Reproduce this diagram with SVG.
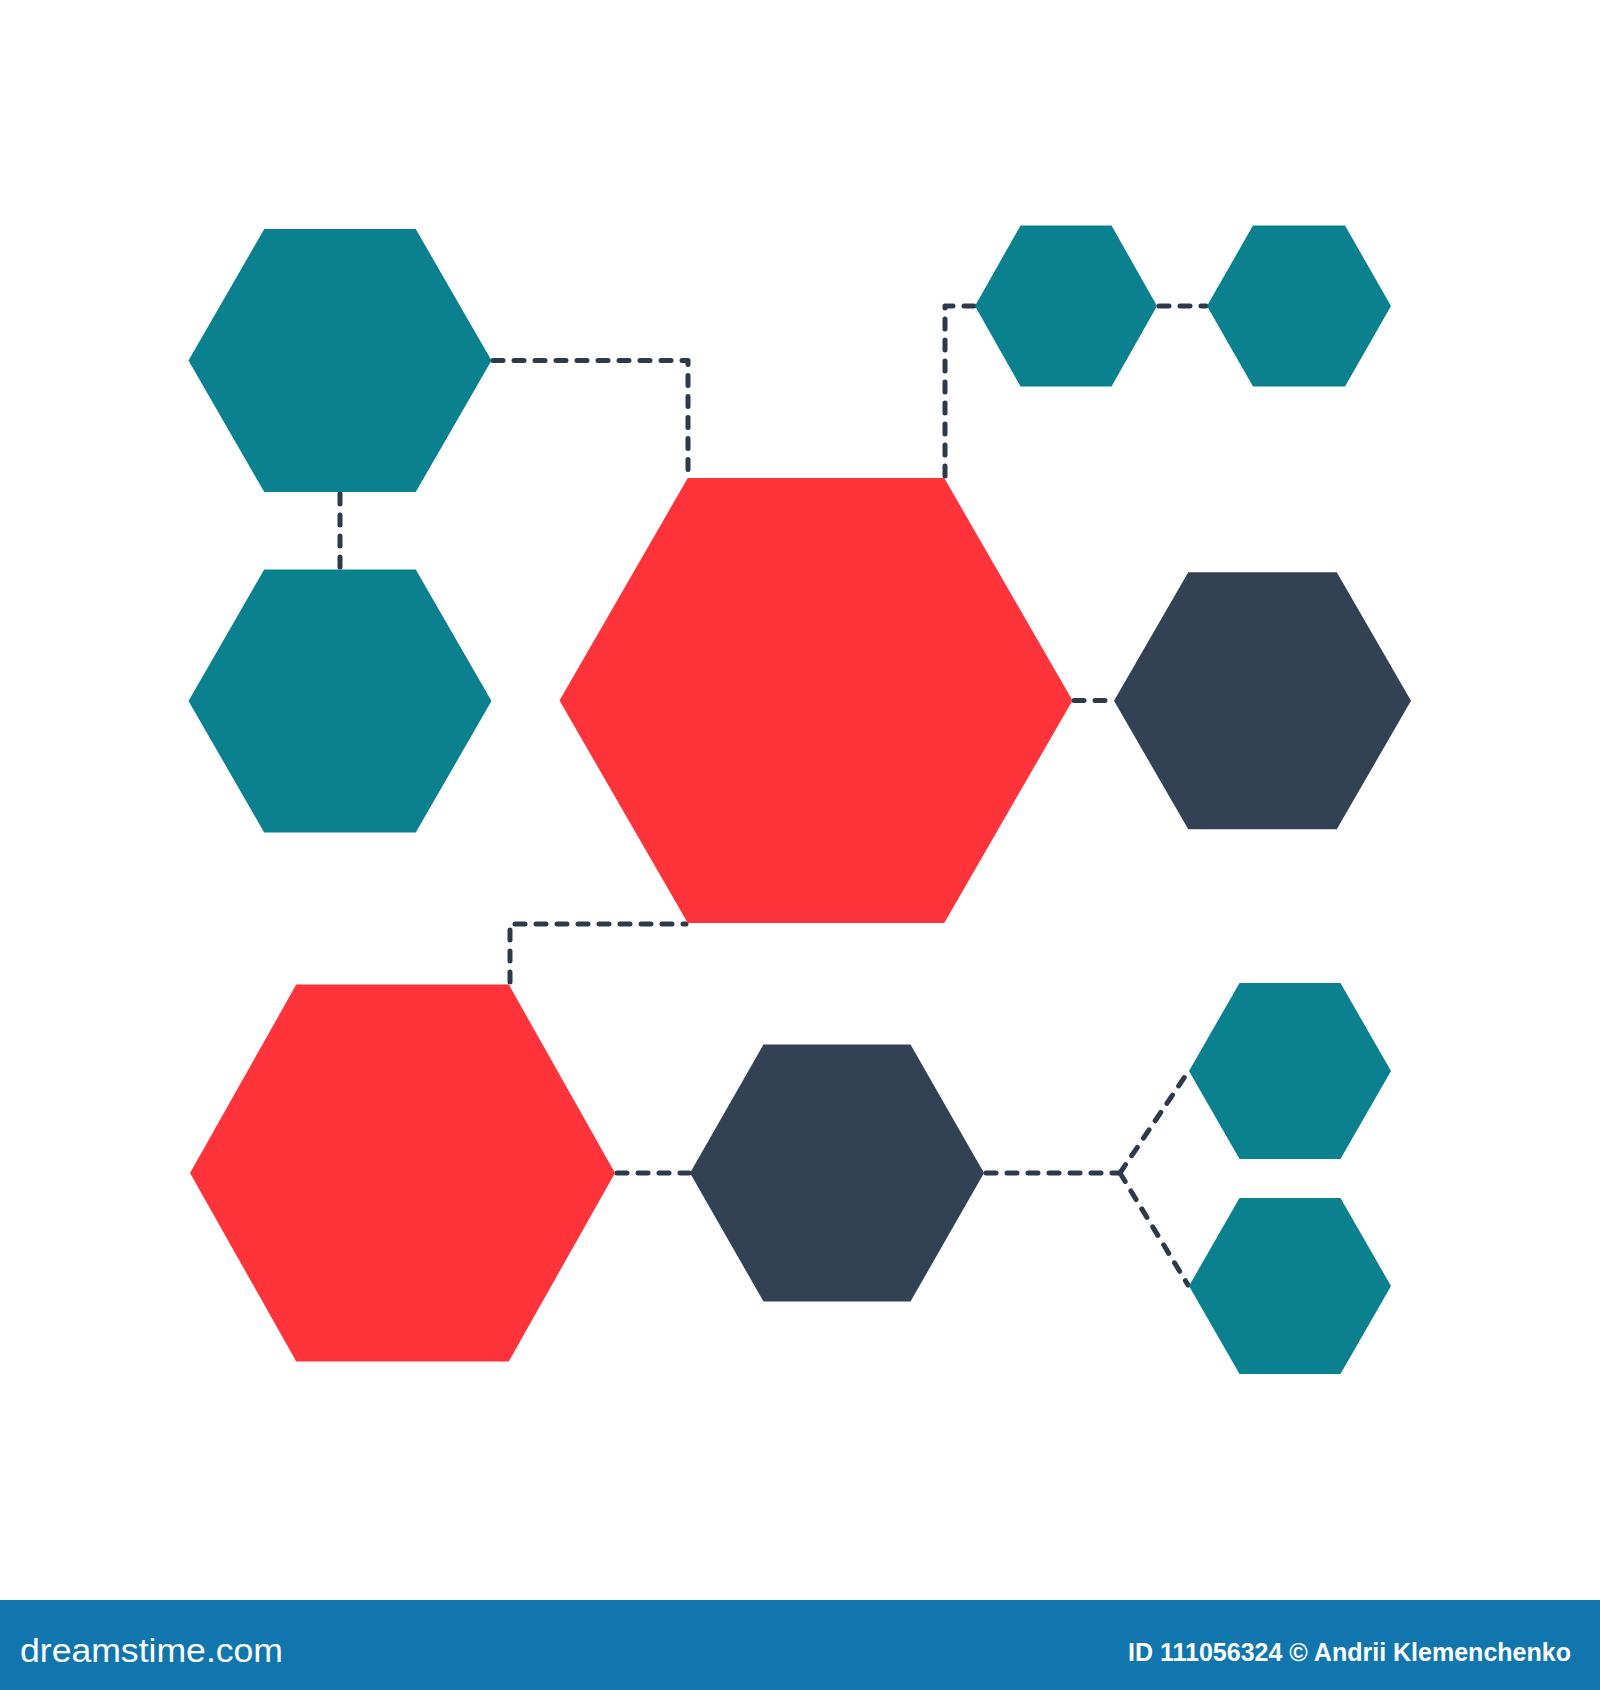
<svg xmlns="http://www.w3.org/2000/svg" width="1600" height="1690" viewBox="0 0 1600 1690">
  <defs>
    <style>
      .teal { fill: #0b818f; }
      .red { fill: #fe343a; }
      .navy { fill: #324154; }
      .conn { fill: none; stroke: #2e3a4b; stroke-width: 5; stroke-dasharray: 10 11; stroke-linecap: round; stroke-linejoin: round; }
      .foot { fill: #ffffff; font-family: "Liberation Sans", Arial, sans-serif; }
    </style>
  </defs>
  <rect x="0" y="0" width="1600" height="1690" fill="#ffffff"/>

  <g id="connectors">
    <path class="conn" d="M493,360.5 H688 V476"/>
    <path class="conn" d="M340,494 V568"/>
    <path class="conn" d="M945,476 V306 H974"/>
    <path class="conn" d="M1159,306 H1206"/>
    <path class="conn" d="M1074,700.5 H1113"/>
    <path class="conn" d="M510,982 V924 H686"/>
    <path class="conn" d="M617,1173 H689"/>
    <path class="conn" d="M986,1173 H1120"/>
    <path class="conn" d="M1120,1173 L1188,1072"/>
    <path class="conn" d="M1120,1173 L1188,1285"/>
  </g>

  <g id="hex-a"><polygon class="teal" points="188.5,360.5 264.25,229 415.75,229 491.5,360.5 415.75,492 264.25,492"/></g>
  <g id="hex-b"><polygon class="teal" points="188.5,701 264.25,569.5 415.75,569.5 491.5,701 415.75,832.5 264.25,832.5"/></g>
  <g id="hex-c"><polygon class="red" points="559.5,700.5 687.75,478 944.25,478 1072.5,700.5 944.25,923 687.75,923"/></g>
  <g id="hex-d"><polygon class="teal" points="975,306 1020.5,225.5 1111.5,225.5 1157,306 1111.5,386.5 1020.5,386.5"/></g>
  <g id="hex-e"><polygon class="teal" points="1207,306 1253,225.5 1345,225.5 1391,306 1345,386.5 1253,386.5"/></g>
  <g id="hex-f"><polygon class="navy" points="1114,700.8 1188.25,572.3 1336.75,572.3 1411,700.8 1336.75,829.3 1188.25,829.3"/></g>
  <g id="hex-g"><polygon class="red" points="190,1173 296.25,984.5 508.75,984.5 615,1173 508.75,1361.5 296.25,1361.5"/></g>
  <g id="hex-h"><polygon class="navy" points="690,1173 763.5,1044.5 910.5,1044.5 984,1173 910.5,1301.5 763.5,1301.5"/></g>
  <g id="hex-i"><polygon class="teal" points="1189,1071 1239.5,983 1340.5,983 1391,1071 1340.5,1159 1239.5,1159"/></g>
  <g id="hex-j"><polygon class="teal" points="1189,1286 1239.5,1198 1340.5,1198 1391,1286 1340.5,1374 1239.5,1374"/></g>

  <g id="footer">
    <rect x="0" y="1600" width="1600" height="90" fill="#1176ae"/>
    <text class="foot" x="20" y="1662" font-size="34" textLength="263" lengthAdjust="spacingAndGlyphs">dreamstime.com</text>
    <text class="foot" x="1128" y="1661" font-size="26" font-weight="bold" textLength="443" lengthAdjust="spacingAndGlyphs">ID 111056324 © Andrii Klemenchenko</text>
  </g>
</svg>
